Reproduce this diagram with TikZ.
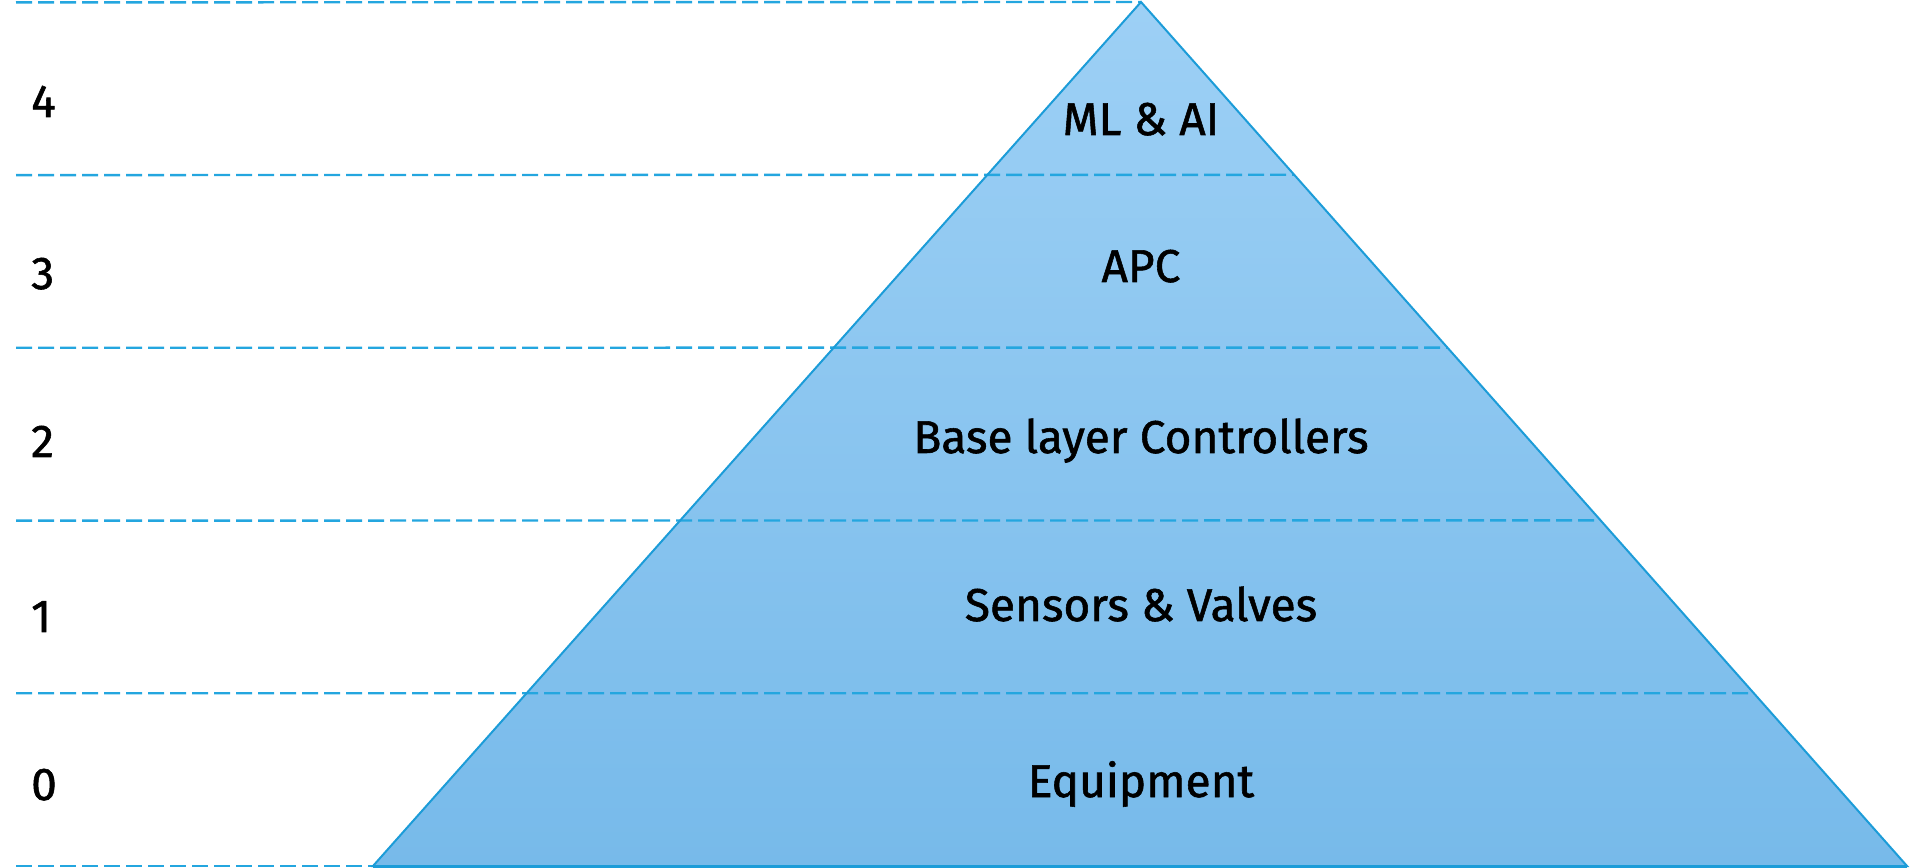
\documentclass[tikz,border=0pt]{standalone}
\usepackage{fontspec}
\setmainfont{Fira Sans}
\newfontfamily\layerfont{Fira Sans}[FakeBold=1.2]
\usetikzlibrary{calc}
\definecolor{Dash}{HTML}{24A6DF}
\definecolor{Edge}{HTML}{1C9CD8}
\definecolor{SkyTop}{HTML}{9DD0F5}
\definecolor{SkyBottom}{HTML}{77BAEA}

\begin{document}
\begin{tikzpicture}[
      x=1pt,y=1pt,
      level/.style={dashed,dash pattern=on 16pt off 6pt,line width=2.4pt,color=Dash},
      layer/.style={anchor=base,inner sep=0pt,font=\layerfont\fontsize{46}{50}\selectfont},
      num/.style={anchor=base west,inner sep=0pt,font=\layerfont\fontsize{46}{50}\selectfont}
    ]
      \useasboundingbox (0,0) rectangle (1910,867);
      \coordinate (apex) at (1141,865);
      \coordinate (bl) at (373,1);
      \coordinate (br) at (1907,1);
      % pyramid
      \shade[top color=SkyTop,bottom color=SkyBottom] (apex) -- (br) -- (bl) -- cycle;
      % level lines
      \draw[level] (16,864.6) -- ($(apex)!0!(br)$);
      \draw[level] (16,691.9) -- ($(apex)!0.2!(br)$);
      \draw[level] (16,519.2) -- ($(apex)!0.4!(br)$);
      \draw[level] (16,346.4) -- ($(apex)!0.6!(br)$);
      \draw[level] (16,173.7) -- ($(apex)!0.8!(br)$);
      \draw[level] (16,1) -- (bl);
      \draw[Edge,line width=2pt] (apex) -- (br) -- (bl) -- cycle;
      \draw[Edge,line width=3pt] (bl) -- (br);
      % level numbers
      \node[num] (n4) at (31,750) {4};
      \node[num] (n3) at (31,578) {3};
      \node[num] (n2) at (31,410) {2};
      \node[num] (n1) at (31,235) {1};
      \node[num] (n0) at (31,67) {0};
      % layer names
      \node[layer] (ai) at (1141,732) {ML \& AI};
      \node[layer] (apc) at (1141,585) {APC};
      \node[layer] (base) at (1141,414) {Base layer Controllers};
      \node[layer] (sensors) at (1141,246) {Sensors \& Valves};
      \node[layer] (equip) at (1141,70) {Equipment};
    \end{tikzpicture}
\end{document}
